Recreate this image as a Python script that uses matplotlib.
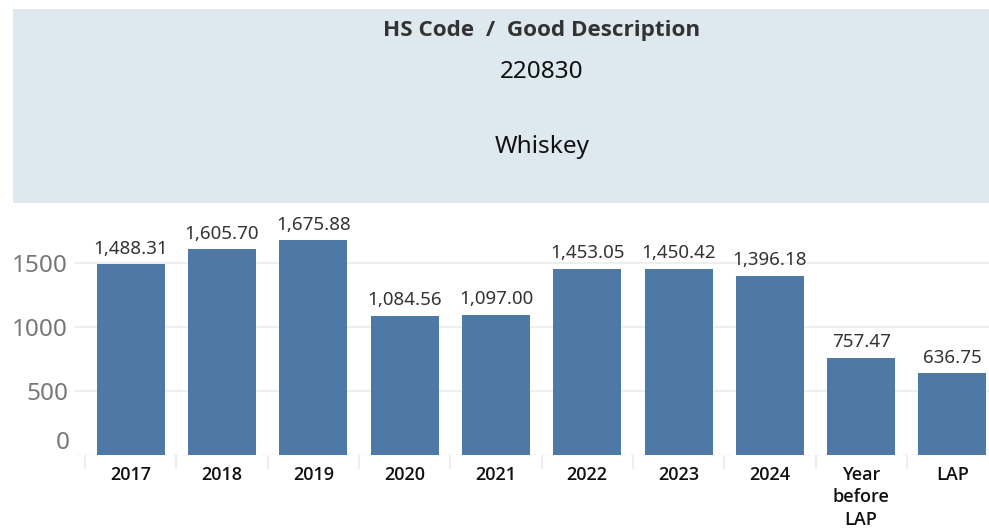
import matplotlib.pyplot as plt
from matplotlib.patches import Rectangle

categories = ["2017", "2018", "2019", "2020", "2021", "2022", "2023", "2024",
              "Year\nbefore\nLAP", "LAP"]
values = [1488.31, 1605.70, 1675.88, 1084.56, 1097.00, 1453.05, 1450.42,
          1396.18, 757.47, 636.75]
y_ticks = [0, 500, 1000, 1500]

header_title = "HS Code  /  Good Description"
hs_code = "220830"
good_desc = "Whiskey"

BAR = "#4e79a7"
W, H = 989, 531

plt.rcParams["font.family"] = ["Noto Sans", "DejaVu Sans"]

fig = plt.figure(figsize=(W / 100, H / 100), dpi=100)

# header panel
fig.patches.append(Rectangle((13 / W, 1 - 203 / H), (W - 13) / W, 194 / H,
                             transform=fig.transFigure, facecolor="#dde8ef",
                             edgecolor="none", zorder=0))
fig.text(542 / W, 1 - 31 / H, header_title, ha="center", va="center",
         fontsize=16.2, fontweight="bold", color="#333333",
         family=["Open Sans", "DejaVu Sans"])
fig.text(542 / W, 1 - 72 / H, hs_code, ha="center", va="center",
         fontsize=17.5, color="#111111")
fig.text(542 / W, 1 - 147 / H, good_desc, ha="center", va="center",
         fontsize=17.5, color="#111111")

# chart
ax = fig.add_axes([75 / W, 1 - 455 / H, (W - 75) / W, 250 / H])
x = range(len(categories))
ax.bar(x, values, width=0.745, color=BAR, zorder=2)
for xi, v in zip(x, values):
    ax.annotate(f"{v:,.2f}", (xi, v), xytext=(0, 5), textcoords="offset points",
                ha="center", va="bottom", fontsize=13.5, color="#333333")

for s in ax.spines.values():
    s.set_visible(False)

ax.set_yticks(y_ticks[1:])
ax.set_yticklabels([str(t) for t in y_ticks[1:]])
ax.tick_params(axis="y", length=0, labelsize=17.5, labelcolor="#777777", pad=5)
ax.grid(axis="y", color="#ececec", linewidth=1.2, zorder=0)
ax.axhline(0, color="#cccccc", linewidth=1, linestyle=(0, (4, 3)), zorder=1)

ax.set_xticks(list(x))
ax.set_xticklabels(categories, fontsize=13, fontweight="semibold",
                   color="#111111", linespacing=1.3, va="top",
                   family=["Open Sans", "DejaVu Sans"])
ax.tick_params(axis="x", length=0, pad=8)
ax.set_xticks([i + 0.5 for i in range(-1, len(categories))], minor=True)
ax.tick_params(axis="x", which="minor", length=10, color="#eeeeee", width=1.5)

ax.set_xlim(-0.61, 9.40)
ax.set_ylim(0, 1953)
ax.text(-0.61 - 0.06, 0, "0", ha="right", va="bottom",
        fontsize=17.5, color="#777777")

fig.savefig("out.png", dpi=100)
